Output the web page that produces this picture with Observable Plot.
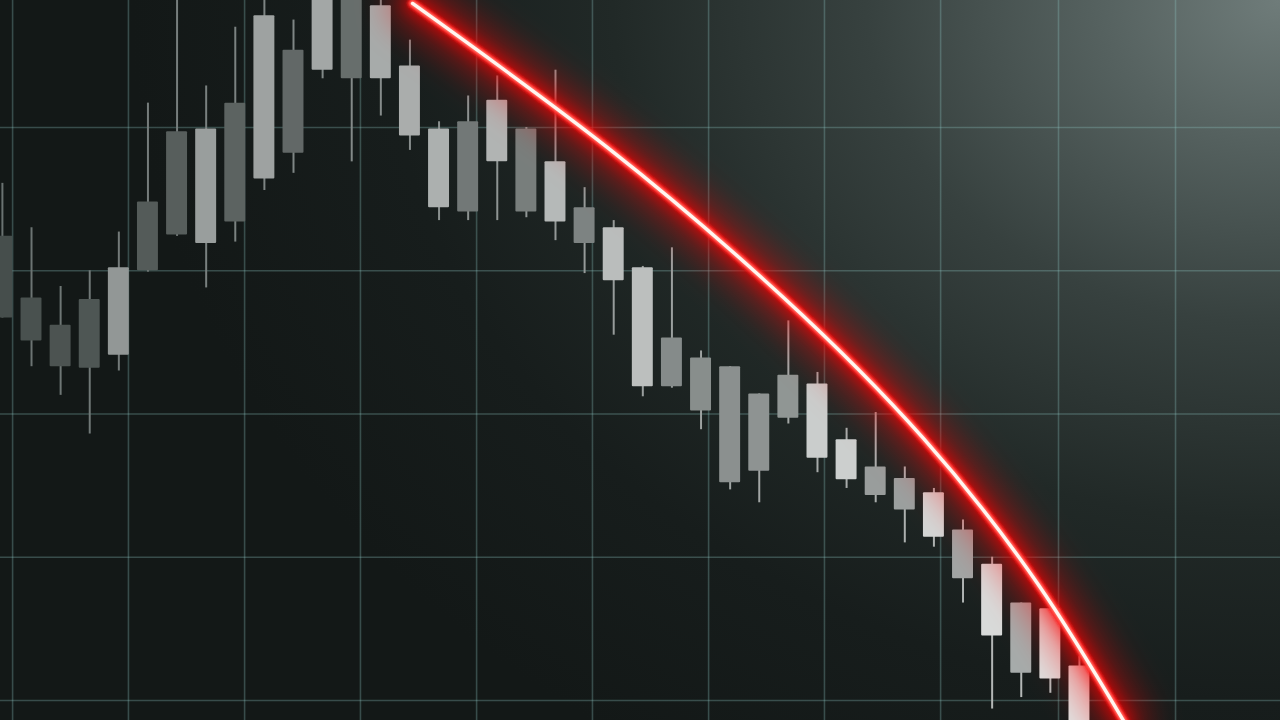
<!DOCTYPE html>
<html>
<head>
<meta charset="utf-8">
<script src="https://cdn.jsdelivr.net/npm/d3@7"></script>
<script src="https://cdn.jsdelivr.net/npm/@observablehq/plot@0.6"></script>
<style>
  html, body { margin: 0; padding: 0; background: #141918; overflow: hidden; }
  #chart svg { display: block; }
</style>
</head>
<body>
<div id="chart"></div>
<script>
// Candle index (session number)
const session = [0,1,2,3,4,5,6,7,8,9,10,11,12,13,14,15,16,17,18,19,20,21,22,23,24,25,26,27,28,29,30,31,32,33,34,35,36,37];
const open  = [132.4,128.1,126.2,128.0,124.1,134.8,139.7,131.9,141.7,136.4,145.4,144.0,150.0,143.4,139.4,134.4,140.4,137.6,139.9,133.4,134.4,129.3,121.9,125.3,123.9,123.3,121.4,122.7,116.9,115.4,116.3,115.5,111.4,111.9,104.5,106.8,101.5,97.5];
const close = [126.7,125.1,123.3,123.2,130.2,130.0,132.5,139.9,133.4,147.8,138.2,149.5,143.4,148.5,144.3,139.9,134.1,141.9,134.1,137.6,131.9,133.0,130.2,121.9,120.2,115.2,116.0,119.7,122.1,118.2,114.3,113.3,114.5,108.5,109.5,101.9,106.4,102.4];
const high  = [136.1,133.0,128.9,130.0,132.7,141.7,149.5,142.9,147.0,149.5,147.5,151.0,151.0,150.0,146.1,140.4,142.2,143.6,140.0,144.0,135.8,133.5,130.3,131.6,124.4,123.3,121.4,126.5,122.9,119.0,120.1,116.3,114.8,112.6,110.0,106.8,106.4,103.1];
const low   = [126.7,123.3,121.3,118.6,123.0,129.9,132.4,128.8,132.0,135.6,136.8,143.4,137.6,140.8,138.4,133.5,133.5,133.5,133.7,132.1,129.8,125.5,121.2,121.8,118.9,114.7,113.8,119.3,115.9,114.8,113.8,111.0,110.7,106.8,99.4,100.2,100.5,97.0];

// Red trend curve (session position, price)
const trendSession = [14.09,20.79,26.83,31.64,35.56,38.55];
const trendPrice   = [148.66,138.60,128.13,118.29,108.17,98.46];

// Grid positions
const gridSession = [0.35,4.33,8.32,12.30,16.29,20.27,24.26,28.24,32.23,36.28,40.30];
const gridPrice = [100,110,120,130,140];

const candles = session.map((s, k) => ({s, open: open[k], close: close[k], high: high[k], low: low[k], up: close[k] >= open[k]}));
const trend = trendSession.map((s, k) => ({s, p: trendPrice[k]}));

const n = session.length - 1;
const lightC = d3.interpolateRgb("#898e8d", "#dfe1e0");
const darkC = d3.interpolateRgb("#464e4c", "#acb0af");
const wickC = d3.interpolateRgb("#6a7271", "#b9bcbb");
const bodyFill = d => (d.up ? lightC : darkC)(d.s / n);

const lineOpts = {x: "s", y: "p", curve: "natural"};

const chart = Plot.plot({
  width: 1280,
  height: 720,
  margin: 0,
  x: {domain: [-0.0653, 43.906], axis: null},
  y: {domain: [98.6, 148.866], axis: null},
  style: {
    background: "radial-gradient(ellipse 1150px 900px at 100% 0%, #6f7c7a 0%, #55615f 16%, #37413f 36%, #212927 58%, #171d1c 78%, #131817 100%)",
    overflow: "hidden"
  },
  marks: [
    Plot.ruleX(gridSession, {x: d => d, stroke: "#8fc8c2", strokeOpacity: 0.3, strokeWidth: 1.6}),
    Plot.ruleY(gridPrice, {y: d => d, stroke: "#8fc8c2", strokeOpacity: 0.3, strokeWidth: 1.6}),
    // wicks
    Plot.ruleX(candles, {x: "s", y1: "low", y2: "high", stroke: d => wickC(d.s / n), strokeWidth: 2}),
    // bodies
    Plot.rect(candles, {
      x1: d => d.s - 0.36, x2: d => d.s + 0.36,
      y1: "open", y2: "close",
      fill: bodyFill, rx: 1
    }),
    // glow layers
    Plot.line(trend, {...lineOpts, stroke: "#ff0a0a", strokeWidth: 50, strokeOpacity: 0.4}),
    Plot.line(trend, {...lineOpts, stroke: "#ff0a0a", strokeWidth: 18, strokeOpacity: 0.55}),
    Plot.line(trend, {...lineOpts, stroke: "#ff1414", strokeWidth: 10}),
    Plot.line(trend, {...lineOpts, stroke: "#ff7a6e", strokeWidth: 6}),
    Plot.line(trend, {...lineOpts, stroke: "#fff6f0", strokeWidth: 3.4})
  ]
});

// soft blur on the outer glow layers
const svg = d3.select(chart);
const defs = svg.insert("defs", ":first-child");
const mk = (id, sd) => defs.append("filter").attr("id", id)
  .attr("filterUnits", "userSpaceOnUse").attr("x", -100).attr("y", -100).attr("width", 1480).attr("height", 920)
  .append("feGaussianBlur").attr("stdDeviation", sd);
mk("glowBlur", 16);
mk("glowBlur2", 7);
mk("glowBlur3", 1.5);
mk("glowBlur4", 0.8);
const lines = svg.selectAll("g[aria-label='line']").nodes();
if (lines[0]) lines[0].setAttribute("filter", "url(#glowBlur)");
if (lines[1]) lines[1].setAttribute("filter", "url(#glowBlur2)");
if (lines[2]) lines[2].setAttribute("filter", "url(#glowBlur3)");
if (lines[3]) lines[3].setAttribute("filter", "url(#glowBlur4)");

document.getElementById("chart").appendChild(chart);
</script>
</body>
</html>
